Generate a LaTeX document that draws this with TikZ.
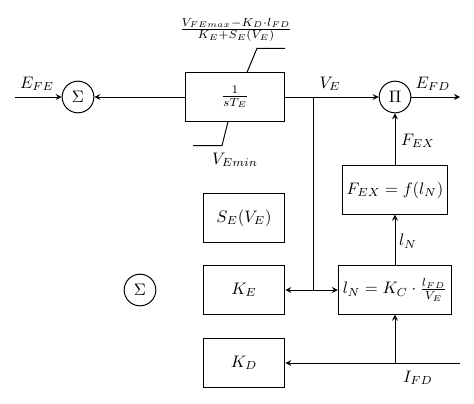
\documentclass[tikz,border=0pt]{standalone}
\usepackage{mathtools}
\usetikzlibrary{positioning, calc}

\tikzset{
    blk/.style = {draw, minimum width=59pt, minimum height=29pt, inner sep=1pt},
    junc/.style = {draw, circle, minimum size=19pt, inner sep=0pt},
}

\begin{document}
\begin{tikzpicture}[x=0.6pt, y=-0.6pt, >=stealth, line width=0.6pt]
    \useasboundingbox (0, 0) rectangle (474, 403);
    % blocks
    \node[junc] (sumfe) at (78, 97) {$\Sigma$};
    \node[blk] (integ) at (235, 97) {$\frac{1}{sT_E}$};
    \node[junc] (prod) at (395, 97) {$\Pi$};
    \node[blk, minimum width=63pt] (fex) at (395, 190) {$F_{EX} = f(l_N)$};
    \node[blk, minimum width=68pt] (ln) at (395, 290) {$l_N = K_C \cdot \frac{l_{FD}}{V_E}$};
    \node[blk, minimum width=49pt] (se) at (244, 218) {$S_E(V_E)$};
    \node[blk, minimum width=49pt] (ke) at (244, 290) {$K_E$};
    \node[blk, minimum width=49pt] (kd) at (244, 363) {$K_D$};
    \node[junc] (sumk) at (140, 290) {$\Sigma$};
    \coordinate (efe) at (15, 97);
    \coordinate (efd) at (460, 97);
    \coordinate (ifd) at (460, 363);
    \coordinate (vtop) at (313, 97);
    \coordinate (vbot) at (313, 290);
    \coordinate (ibr) at (395, 363);
    % limits
    \draw ($(integ.north)+(12, 0)$) -- ++(10, -24) -- ++(28, 0);
    \draw ($(integ.south)+(-7, 0)$) -- ++(-6, 24) -- ++(-29, 0);
    \node (vmax) at (236, 30) {$\frac{V_{FEmax}-K_D\cdot l_{FD}}{K_E+S_E(V_E)}$};
    \node (vmin) at (235, 160) {$V_{Emin}$};
    % signals
    \draw[->] (efe) -- (sumfe.west);
    \draw[->] (integ.west) -- (sumfe.east);
    \draw[->] (integ.east) -- (prod.west);
    \draw[->] (prod.east) -- (efd);
    \draw (vtop) -- (vbot);
    \draw[->] (vbot) -- (ke.east);
    \draw[->] (vbot) -- (ln.west);
    \draw[->] (fex.north) -- (prod.south);
    \draw[->] (ln.north) -- (fex.south);
    \draw[->] (ifd) -- (kd.east);
    \draw[->] (ibr) -- (ln.south);
    % labels
    \node (lefe) at (37, 84) {$E_{FE}$};
    \node (lve) at (330, 84) {$V_E$};
    \node (lefd) at (433, 84) {$E_{FD}$};
    \node (lfex) at (418, 141) {$F_{EX}$};
    \node (lln) at (408, 241) {$l_N$};
    \node (lifd) at (418, 378) {$I_{FD}$};
\end{tikzpicture}
\end{document}
